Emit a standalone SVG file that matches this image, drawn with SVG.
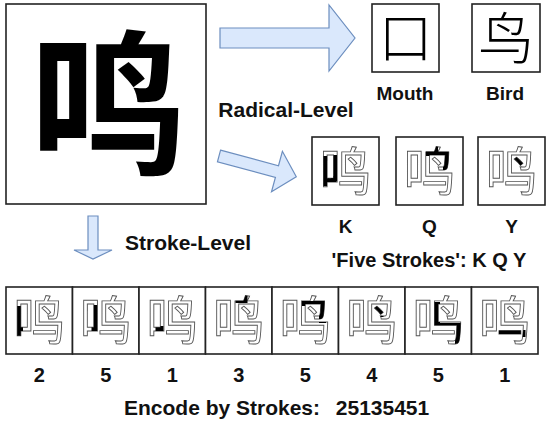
<svg xmlns="http://www.w3.org/2000/svg" width="550" height="425" viewBox="0 0 550 425">
<style>
.lbl{font-family:"Liberation Sans",Arial,sans-serif;font-weight:bold;fill:#111;text-anchor:middle}
.box{fill:#fff;stroke:#222;stroke-width:1.6}
.arrow{fill:#dae8fc;stroke:#6c8ebf;stroke-width:1.2}
.cjk{font-family:"Noto Sans CJK SC",sans-serif;text-anchor:middle}
.outl{font-family:"Noto Sans CJK SC",sans-serif;text-anchor:middle;font-size:52px;fill:#fff;stroke:#555;stroke-width:0.9}
.hl{font-family:"Noto Sans CJK SC",sans-serif;text-anchor:middle;font-size:52px;fill:#000}
</style>
<defs>
<clipPath id="s2a"><rect x="8" y="19" width="9" height="30"/></clipPath>
<clipPath id="s5a"><rect x="15" y="18" width="6" height="6"/><rect x="19" y="18" width="6" height="26"/></clipPath>
<clipPath id="s1a"><rect x="16.5" y="39" width="8" height="8"/></clipPath>
<clipPath id="s3"><rect x="30" y="6" width="12" height="10"/></clipPath>
<clipPath id="s5b"><rect x="30" y="14" width="18" height="5"/><rect x="47" y="14" width="7" height="22"/></clipPath>
<clipPath id="s4"><rect x="36" y="19" width="9" height="11"/></clipPath>
<clipPath id="s5c"><rect x="29" y="15" width="6" height="25"/><rect x="29" y="36" width="30" height="6"/><rect x="50" y="36" width="9" height="24"/></clipPath>
<clipPath id="s1b"><rect x="26" y="43" width="28" height="7"/></clipPath>
</defs>

<g id="connectors">
<polygon id="arrow-radical" class="arrow" points="220,28 329,28 329,5 355,38 329,71 329,48 220,48"/>
<polygon id="arrow-five" class="arrow" transform="translate(219,156) rotate(15)" points="0,-6 60,-6 60,-21 80,0 60,21 60,6 0,6"/>
<polygon id="arrow-stroke" class="arrow" points="88,216 98,216 98,250 112,250 93,259 74,250 88,250"/>
</g>

<g id="main-char">
<rect class="box" x="6" y="4" width="200" height="200" stroke-width="2"/>
<text class="cjk" x="108" y="162" font-size="156" font-weight="bold">鸣</text>
</g>

<text class="lbl" x="286" y="117" font-size="21">Radical-Level</text>
<text class="lbl" x="188" y="250" font-size="21">Stroke-Level</text>

<g id="radical-mouth">
<rect class="box" x="372" y="4" width="67" height="68"/>
<text class="cjk" x="405.5" y="58" font-size="54" font-weight="300">口</text>
<text class="lbl" x="405" y="100" font-size="19">Mouth</text>
</g>
<g id="radical-bird">
<rect class="box" x="472" y="4" width="68" height="68"/>
<text class="cjk" x="506" y="59" font-size="56" font-weight="300">鸟</text>
<text class="lbl" x="505" y="100" font-size="19">Bird</text>
</g>

<g id="code-K" transform="translate(312,137)">
<rect class="box" x="0" y="0" width="67" height="68"/>
<text class="outl" x="33.5" y="53.5">鸣</text>
<g clip-path="url(#s2a)"><text class="hl" x="33.5" y="53.5">鸣</text></g>
<g clip-path="url(#s5a)"><text class="hl" x="33.5" y="53.5">鸣</text></g>
<g clip-path="url(#s1a)"><text class="hl" x="33.5" y="53.5">鸣</text></g>
<text class="lbl" x="33.5" y="96" font-size="19">K</text>
</g>
<g id="code-Q" transform="translate(396,137)">
<rect class="box" x="0" y="0" width="67" height="68"/>
<text class="outl" x="33.5" y="53.5">鸣</text>
<g clip-path="url(#s5b)"><text class="hl" x="33.5" y="53.5">鸣</text></g>
<g clip-path="url(#s3)"><text class="hl" x="33.5" y="53.5">鸣</text></g>
<text class="lbl" x="33.5" y="96" font-size="19">Q</text>
</g>
<g id="code-Y" transform="translate(478,137)">
<rect class="box" x="0" y="0" width="67" height="68"/>
<text class="outl" x="33.5" y="53.5">鸣</text>
<g clip-path="url(#s4)"><text class="hl" x="33.5" y="53.5">鸣</text></g>
<text class="lbl" x="33.5" y="96" font-size="19">Y</text>
</g>
<text class="lbl" x="429" y="267" font-size="20">'Five Strokes': K Q Y</text>

<g id="stroke-1" transform="translate(6,287)">
<rect class="box" width="66.5" height="67"/>
<text class="outl" x="33.25" y="53.3">鸣</text>
<g clip-path="url(#s2a)"><text class="hl" x="33.25" y="53.3">鸣</text></g>
<text class="lbl" x="33.25" y="95" font-size="20">2</text>
</g>
<g id="stroke-2" transform="translate(72.5,287)">
<rect class="box" width="66.5" height="67"/>
<text class="outl" x="33.25" y="53.3">鸣</text>
<g clip-path="url(#s5a)"><text class="hl" x="33.25" y="53.3">鸣</text></g>
<text class="lbl" x="33.25" y="95" font-size="20">5</text>
</g>
<g id="stroke-3" transform="translate(139,287)">
<rect class="box" width="66.5" height="67"/>
<text class="outl" x="33.25" y="53.3">鸣</text>
<g clip-path="url(#s1a)"><text class="hl" x="33.25" y="53.3">鸣</text></g>
<text class="lbl" x="33.25" y="95" font-size="20">1</text>
</g>
<g id="stroke-4" transform="translate(205.5,287)">
<rect class="box" width="66.5" height="67"/>
<text class="outl" x="33.25" y="53.3">鸣</text>
<g clip-path="url(#s3)"><text class="hl" x="33.25" y="53.3">鸣</text></g>
<text class="lbl" x="33.25" y="95" font-size="20">3</text>
</g>
<g id="stroke-5" transform="translate(272,287)">
<rect class="box" width="66.5" height="67"/>
<text class="outl" x="33.25" y="53.3">鸣</text>
<g clip-path="url(#s5b)"><text class="hl" x="33.25" y="53.3">鸣</text></g>
<text class="lbl" x="33.25" y="95" font-size="20">5</text>
</g>
<g id="stroke-6" transform="translate(338.5,287)">
<rect class="box" width="66.5" height="67"/>
<text class="outl" x="33.25" y="53.3">鸣</text>
<g clip-path="url(#s4)"><text class="hl" x="33.25" y="53.3">鸣</text></g>
<text class="lbl" x="33.25" y="95" font-size="20">4</text>
</g>
<g id="stroke-7" transform="translate(405,287)">
<rect class="box" width="66.5" height="67"/>
<text class="outl" x="33.25" y="53.3">鸣</text>
<g clip-path="url(#s5c)"><text class="hl" x="33.25" y="53.3">鸣</text></g>
<text class="lbl" x="33.25" y="95" font-size="20">5</text>
</g>
<g id="stroke-8" transform="translate(471.5,287)">
<rect class="box" width="66.5" height="67"/>
<text class="outl" x="33.25" y="53.3">鸣</text>
<g clip-path="url(#s1b)"><text class="hl" x="33.25" y="53.3">鸣</text></g>
<text class="lbl" x="33.25" y="95" font-size="20">1</text>
</g>

<text class="lbl" x="222" y="415" font-size="21">Encode by Strokes:</text>
<text class="lbl" x="382.5" y="415" font-size="21">25135451</text>
</svg>
